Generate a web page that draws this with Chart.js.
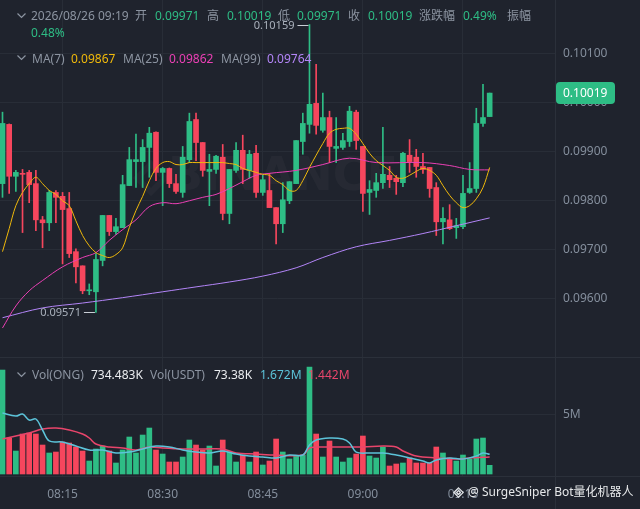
<!DOCTYPE html>
<html>
<head>
<meta charset="utf-8">
<script src="https://cdn.jsdelivr.net/npm/chart.js@4.4.1/dist/chart.umd.min.js"></script>
<style>
html, body { margin: 0; padding: 0; background: #1f232d; }
#wrap { position: relative; width: 640px; height: 509px; overflow: hidden; background: #1f232d;
        font-family: "Noto Sans", "Noto Sans CJK SC", sans-serif; font-size: 12px; }
canvas { position: absolute; left: 0; }
#main { top: 0; }
#vol { top: 358px; }
.t { position: absolute; white-space: nowrap; line-height: 14px; }
.g { color: #8c94a1; }
.up { color: #2ebd85; }
.w { color: #eaecef; }
.line { position: absolute; background: #2b303a; }
.chev { position: absolute; }
</style>
</head>
<body>
<div id="wrap">
  <canvas id="main" width="640" height="358"></canvas>
  <canvas id="vol" width="640" height="151"></canvas>

  <div class="line" style="left:0;top:357px;width:640px;height:1px"></div>
  <div class="line" style="left:0;top:476px;width:640px;height:1px"></div>
  <div class="line" style="left:555px;top:0;width:1px;height:509px"></div>

  <!-- cabecalho da vela -->
  <svg class="chev" style="left:17px;top:13px" width="9" height="6"><polyline points="0.5,0.5 4.5,4.5 8.5,0.5" fill="none" stroke="#8c94a1" stroke-width="1.2"/></svg>
  <span class="t g" style="left:31px;top:9px">2026/08/26 09:19</span>
  <span class="t g" style="left:135px;top:9px">开</span>
  <span class="t up" style="left:155px;top:9px">0.09971</span>
  <span class="t g" style="left:207px;top:9px">高</span>
  <span class="t up" style="left:227px;top:9px">0.10019</span>
  <span class="t g" style="left:278px;top:9px">低</span>
  <span class="t up" style="left:297px;top:9px">0.09971</span>
  <span class="t g" style="left:348px;top:9px">收</span>
  <span class="t up" style="left:368px;top:9px">0.10019</span>
  <span class="t g" style="left:419px;top:9px">涨跌幅</span>
  <span class="t up" style="left:463px;top:9px">0.49%</span>
  <span class="t g" style="left:507px;top:9px">振幅</span>
  <span class="t up" style="left:31px;top:26px">0.48%</span>

  <svg class="chev" style="left:17px;top:55px" width="9" height="6"><polyline points="0.5,0.5 4.5,4.5 8.5,0.5" fill="none" stroke="#8c94a1" stroke-width="1.2"/></svg>
  <span class="t g" style="left:32px;top:52px">MA(7)</span>
  <span class="t" style="left:71px;top:52px;color:#f0b90b">0.09867</span>
  <span class="t g" style="left:123px;top:52px">MA(25)</span>
  <span class="t" style="left:169px;top:52px;color:#eb40b5">0.09862</span>
  <span class="t g" style="left:221px;top:52px">MA(99)</span>
  <span class="t" style="left:267px;top:52px;color:#b385f8">0.09764</span>

  <svg class="chev" style="left:17px;top:372px" width="9" height="6"><polyline points="0.5,0.5 4.5,4.5 8.5,0.5" fill="none" stroke="#8c94a1" stroke-width="1.2"/></svg>
  <span class="t g" style="left:32px;top:368px">Vol(ONG)</span>
  <span class="t w" style="left:91px;top:368px">734.483K</span>
  <span class="t g" style="left:150px;top:368px">Vol(USDT)</span>
  <span class="t w" style="left:214px;top:368px">73.38K</span>
  <span class="t" style="left:260px;top:368px;color:#5cc3d9">1.672M</span>
  <span class="t" style="left:308px;top:368px;color:#e8456b">1.442M</span>

  <svg class="chev" style="left:453px;top:487px" width="11" height="11" viewBox="0 0 11 11">
    <g fill="none" stroke="#e6e8ea" stroke-width="1.1">
      <polygon points="5.5,0.8 10.2,5.5 5.5,10.2 0.8,5.5"/>
      <polygon points="5.5,3.6 7.4,5.5 5.5,7.4 3.6,5.5"/>
    </g>
  </svg>
  <span class="t" style="left:468px;top:485px;color:#e6e8ea">@ SurgeSniper Bot量化机器人</span>
</div>

<script>
// velas de 1 minuto
var times = ['08:06','08:07','08:08','08:09','08:10','08:11','08:12','08:13','08:14','08:15',
    '08:16','08:17','08:18','08:19','08:20','08:21','08:22','08:23','08:24','08:25',
    '08:26','08:27','08:28','08:29','08:30','08:31','08:32','08:33','08:34','08:35',
    '08:36','08:37','08:38','08:39','08:40','08:41','08:42','08:43','08:44','08:45',
    '08:46','08:47','08:48','08:49','08:50','08:51','08:52','08:53','08:54','08:55',
    '08:56','08:57','08:58','08:59','09:00','09:01','09:02','09:03','09:04','09:05',
    '09:06','09:07','09:08','09:09','09:10','09:11','09:12','09:13','09:14','09:15',
    '09:16','09:17','09:18','09:19'];

var opens = [0.09834,0.09955,0.09849,0.09855,0.09857,0.09834,0.09760,0.09754,0.09816,0.09808,
    0.09783,0.09695,0.09666,0.09615,0.09613,0.09677,0.09769,0.09736,0.09744,0.09830,
    0.09879,0.09879,0.09908,0.09939,0.09857,0.09865,0.09834,0.09816,0.09883,0.09965,
    0.09918,0.09859,0.09863,0.09888,0.09773,0.09861,0.09902,0.09861,0.09896,0.09816,
    0.09820,0.09785,0.09752,0.09799,0.09834,0.09920,0.09955,0.09998,0.09943,0.09969,
    0.09906,0.09908,0.09920,0.09980,0.09910,0.09816,0.09820,0.09836,0.09851,0.09845,
    0.09836,0.09892,0.09888,0.09869,0.09867,0.09826,0.09756,0.09760,0.09744,0.09746,
    0.09816,0.09824,0.09957,0.09971];
var highs = [0.09980,0.09956,0.09861,0.09863,0.09861,0.09861,0.09767,0.09820,0.09820,0.09816,
    0.09816,0.09701,0.09666,0.09629,0.09691,0.09769,0.09769,0.09763,0.09851,0.09908,
    0.09935,0.09924,0.09949,0.09940,0.09867,0.09866,0.09853,0.09910,0.09978,0.09978,
    0.09918,0.09894,0.09892,0.09914,0.09863,0.09918,0.09933,0.09902,0.09912,0.09851,
    0.09855,0.09785,0.09836,0.09838,0.09922,0.09978,0.10159,0.10078,0.10019,0.09982,
    0.09969,0.09937,0.09992,0.09984,0.09910,0.09840,0.09855,0.09949,0.09869,0.09851,
    0.09898,0.09924,0.09904,0.09896,0.09867,0.09836,0.09785,0.09791,0.09763,0.09851,
    0.09877,0.09988,0.10037,0.10019];
var lows = [0.09806,0.09814,0.09818,0.09734,0.09795,0.09738,0.09703,0.09738,0.09754,0.09670,
    0.09683,0.09631,0.09609,0.09607,0.09571,0.09666,0.09728,0.09730,0.09744,0.09830,
    0.09826,0.09826,0.09847,0.09840,0.09789,0.09826,0.09814,0.09806,0.09877,0.09881,
    0.09849,0.09789,0.09855,0.09760,0.09752,0.09857,0.09834,0.09845,0.09806,0.09810,
    0.09785,0.09711,0.09734,0.09793,0.09834,0.09894,0.09937,0.09935,0.09939,0.09877,
    0.09877,0.09904,0.09910,0.09904,0.09777,0.09771,0.09806,0.09824,0.09826,0.09812,
    0.09828,0.09857,0.09847,0.09855,0.09806,0.09728,0.09711,0.09740,0.09722,0.09742,
    0.09814,0.09816,0.09951,0.09971];
var closes = [0.09957,0.09849,0.09857,0.09853,0.09832,0.09760,0.09754,0.09816,0.09806,0.09781,
    0.09691,0.09664,0.09615,0.09617,0.09679,0.09769,0.09736,0.09746,0.09832,0.09883,
    0.09883,0.09908,0.09937,0.09857,0.09865,0.09834,0.09818,0.09888,0.09961,0.09918,
    0.09861,0.09863,0.09890,0.09773,0.09863,0.09902,0.09863,0.09894,0.09816,0.09842,
    0.09785,0.09752,0.09801,0.09838,0.09922,0.09957,0.09996,0.09953,0.09969,0.09910,
    0.09910,0.09922,0.09982,0.09922,0.09814,0.09822,0.09836,0.09853,0.09842,0.09838,
    0.09896,0.09879,0.09869,0.09863,0.09824,0.09756,0.09763,0.09742,0.09748,0.09814,
    0.09824,0.09957,0.09969,0.10019];
var volumes = [8810000,3049000,1948000,3388000,3473000,3388000,2456000,1779000,1863000,2710000,
    2626000,2287000,1948000,1101000,2118000,2372000,1948000,932000,2033000,3134000,
    1779000,3303000,3896000,2033000,1694000,1016000,1016000,1440000,2880000,2456000,
    2033000,2372000,678000,2880000,1863000,1016000,1609000,1016000,1863000,762000,
    1101000,2965000,1863000,1271000,1525000,1609000,9060000,3388000,1440000,2795000,
    1440000,1016000,1355000,1694000,3219000,1525000,1355000,2287000,678000,847000,
    932000,1355000,932000,932000,932000,2287000,1779000,1355000,1101000,1609000,
    1271000,2965000,3049000,734483];

// medias moveis
var ma7 = [0.09695,0.09742,0.09789,0.09816,0.09834,0.09847,0.09834,0.09820,0.09812,0.09799,
    0.09789,0.09758,0.09728,0.09707,0.09693,0.09687,0.09683,0.09689,0.09703,0.09744,
    0.09779,0.09808,0.09840,0.09865,0.09877,0.09879,0.09873,0.09873,0.09877,0.09877,
    0.09877,0.09877,0.09877,0.09877,0.09875,0.09873,0.09865,0.09861,0.09857,0.09853,
    0.09851,0.09840,0.09832,0.09820,0.09820,0.09840,0.09867,0.09892,0.09916,0.09937,
    0.09945,0.09947,0.09947,0.09935,0.09916,0.09896,0.09881,0.09871,0.09861,0.09847,
    0.09845,0.09851,0.09859,0.09865,0.09861,0.09851,0.09830,0.09810,0.09795,0.09785,
    0.09789,0.09803,0.09826,0.09867];
var ma25Idx = [1,3,5,7,10,13,15,17,19,21,23,25,27,29,31,33,35,37,39,41,45,49,53,57,64,68,71,74];
var ma25Val = [0.09539,0.09584,0.09615,0.09636,0.09664,0.09683,0.09693,0.09718,0.09740,0.09760,
    0.09787,0.09795,0.09793,0.09799,0.09806,0.09812,0.09824,0.09838,0.09851,0.09855,
    0.09861,0.09873,0.09886,0.09877,0.09877,0.09871,0.09863,0.09862];
var ma99Idx = [1,7,13,19,25,30,35,40,45,49,54,59,64,69,74];
var ma99Val = [0.09560,0.09580,0.09590,0.09601,0.09613,0.09623,0.09633,0.09645,0.09662,0.09683,
    0.09705,0.09718,0.09732,0.09748,0.09764];

var volMa5Idx = [1,3,4,5,6,7,8,10,12,14,16,18,20,22,24,26,28,30,32,34,36,38,40,42,44,46,47,48,50,52,
    53,54,56,58,60,62,64,65,66,68,70,72,73,74];
var volMa5Val = [5170000,4910000,5080000,4570000,4660000,3730000,2800000,2710000,2370000,2030000,
    2030000,1780000,1860000,2120000,2370000,2290000,2030000,1860000,1780000,1950000,
    1690000,1520000,1440000,1360000,1610000,1610000,2460000,2880000,3050000,2960000,
    2630000,1860000,1780000,1780000,1610000,1360000,1100000,930000,1190000,1360000,
    1270000,1520000,1780000,1672000];
var volMa10Idx = [1,3,5,7,9,11,13,14,15,17,19,21,23,25,28,31,34,36,39,42,46,47,49,55,58,60,61,63,66,69,71,74];
var volMa10Val = [2960000,3220000,3470000,3810000,3900000,3730000,3390000,3050000,2540000,2290000,
    2200000,2030000,2290000,2200000,2120000,2120000,2120000,1780000,1690000,1610000,
    1610000,2200000,2290000,2290000,2370000,2290000,1950000,1520000,1360000,1270000,
    1360000,1442000];

var priceTicks = [0.096, 0.097, 0.098, 0.099, 0.100, 0.101];
var volTicks = [5000000];
var timeTicks = ['08:15', '08:30', '08:45', '09:00', '09:15'];

var UP = '#2ebd85', DOWN = '#f6465d', GRID = '#282d37', AXIS = '#848e9c';
var X_MIN = 485.625, X_MAX = 568.79;

function toMin(t) { var p = t.split(':'); return +p[0] * 60 + +p[1]; }
function fmtMin(v) { var h = Math.floor(v / 60), m = v % 60; return (h < 10 ? '0' : '') + h + ':' + (m < 10 ? '0' : '') + m; }
function noPad(s) { s.paddingTop = 0; s.paddingBottom = 0; s.paddingLeft = 0; s.paddingRight = 0; }

var minutes = times.map(toMin);
var colors = closes.map(function(c, i) { return c >= opens[i] ? UP : DOWN; });
var bodies = minutes.map(function(m, i) { return { x: m, y: [opens[i], closes[i]] }; });
var wicks = minutes.map(function(m, i) { return { x: m, y: [lows[i], highs[i]] }; });
var volBars = minutes.map(function(m, i) { return { x: m, y: volumes[i] }; });
var ma7Pts = minutes.map(function(m, i) { return { x: m, y: ma7[i] }; });
function pts(idx, val) { return idx.map(function(k, j) { return { x: minutes[k - 1], y: val[j] }; }); }

function lineDs(data, color, w) {
    return { type: 'line', data: data, borderColor: color, borderWidth: w || 1, pointRadius: 0,
             tension: 0.35, fill: false, order: 0 };
}

function xScale(showLabels) {
    return {
        type: 'linear', min: X_MIN, max: X_MAX, offset: false,
        afterBuildTicks: function(s) { s.ticks = timeTicks.map(function(t) { return { value: toMin(t) }; }); },
        ticks: { display: showLabels, padding: 11, color: AXIS, maxRotation: 0, autoSkip: false,
                 font: { family: 'Noto Sans', size: 12 },
                 callback: function(v) { return fmtMin(v); } },
        grid: { color: GRID, drawTicks: false, offset: false },
        border: { display: false },
        afterFit: function(s) { s.height = showLabels ? 33 : 0; noPad(s); }
    };
}

var watermark = {
    id: 'watermark',
    beforeDatasetsDraw: function(chart) {
        var ctx = chart.ctx;
        ctx.save();
        ctx.fillStyle = 'rgba(255,255,255,0.03)';
        ctx.strokeStyle = 'rgba(255,255,255,0.03)';
        ctx.font = 'bold 46px "DejaVu Sans"';
        ctx.textBaseline = 'middle';
        ctx.fillText('BINANCE', 168, 178);
        ctx.lineWidth = 6;
        ctx.beginPath();
        ctx.moveTo(151, 164); ctx.lineTo(165, 178); ctx.lineTo(151, 192); ctx.lineTo(137, 178); ctx.closePath();
        ctx.stroke();
        ctx.restore();
    }
};

var hiLo = {
    id: 'hiLo',
    afterDatasetsDraw: function(chart) {
        var ctx = chart.ctx, xs = chart.scales.x, ys = chart.scales.y;
        var hi = highs.indexOf(Math.max.apply(null, highs));
        var lo = lows.indexOf(Math.min.apply(null, lows));
        ctx.save();
        ctx.font = '11px "Noto Sans"';
        ctx.fillStyle = '#aab1bc';
        ctx.strokeStyle = '#c9ced6';
        ctx.lineWidth = 1;
        ctx.textAlign = 'right';
        ctx.textBaseline = 'middle';
        [[hi, highs[hi]], [lo, lows[lo]]].forEach(function(p) {
            var x = xs.getPixelForValue(minutes[p[0]]);
            var y = Math.round(ys.getPixelForValue(p[1])) + 0.5;
            ctx.beginPath(); ctx.moveTo(x - 12, y); ctx.lineTo(x - 1, y); ctx.stroke();
            ctx.fillText(p[1].toFixed(5), x - 15, y);
        });
        ctx.restore();
    }
};

var lastBadge = {
    id: 'lastBadge',
    afterDraw: function(chart) {
        var ctx = chart.ctx, ys = chart.scales.y;
        var last = closes[closes.length - 1];
        var y = ys.getPixelForValue(last);
        ctx.save();
        ctx.fillStyle = last >= opens[opens.length - 1] ? UP : DOWN;
        ctx.beginPath();
        ctx.roundRect(556, y - 11, 59, 22, 4);
        ctx.fill();
        ctx.fillStyle = '#ffffff';
        ctx.font = '12px "Noto Sans"';
        ctx.textBaseline = 'middle';
        ctx.fillText(last.toFixed(5), 563, y + 0.5);
        ctx.restore();
    }
};

// Grafico principal: velas + MA
new Chart(document.getElementById('main'), {
    type: 'bar',
    data: {
        datasets: [
            lineDs(ma7Pts, '#f0b90b'),
            lineDs(pts(ma25Idx, ma25Val), '#eb40b5'),
            lineDs(pts(ma99Idx, ma99Val), '#b385f8'),
            { data: bodies, backgroundColor: colors, barThickness: 5, minBarLength: 1, grouped: false, order: 1 },
            { data: wicks, backgroundColor: colors, barThickness: 1, grouped: false, order: 2 }
        ]
    },
    options: {
        responsive: false, animation: false,
        layout: { padding: 0, autoPadding: false },
        plugins: { legend: { display: false }, tooltip: { enabled: false } },
        scales: {
            x: xScale(false),
            y: {
                position: 'right', min: 0.094777, max: 0.102092,
                afterBuildTicks: function(s) { s.ticks = priceTicks.map(function(v) { return { value: v }; }); },
                ticks: { padding: 8, color: AXIS, font: { family: 'Noto Sans', size: 12 },
                         callback: function(v) { return v.toFixed(5); } },
                grid: { drawTicks: false, color: GRID },
                border: { display: false },
                afterFit: function(s) { s.width = 85; noPad(s); }
            }
        }
    },
    plugins: [watermark, hiLo, lastBadge]
});

// Grafico de volume
new Chart(document.getElementById('vol'), {
    type: 'bar',
    data: {
        datasets: [
            lineDs(pts(volMa5Idx, volMa5Val), '#5cc3d9', 1.5),
            lineDs(pts(volMa10Idx, volMa10Val), '#e8456b', 1.5),
            { data: volBars, backgroundColor: colors, barThickness: 5, grouped: false, order: 1 }
        ]
    },
    options: {
        responsive: false, animation: false,
        layout: { padding: 0, autoPadding: false },
        plugins: { legend: { display: false }, tooltip: { enabled: false } },
        scales: {
            x: xScale(true),
            y: {
                position: 'right', min: -169492, max: 9830508,
                afterBuildTicks: function(s) { s.ticks = volTicks.map(function(v) { return { value: v }; }); },
                ticks: { padding: 8, color: AXIS, font: { family: 'Noto Sans', size: 12 },
                         callback: function(v) { return (v / 1000000) + 'M'; } },
                grid: { drawTicks: false, color: GRID },
                border: { display: false },
                afterFit: function(s) { s.width = 85; noPad(s); }
            }
        }
    }
});
</script>
</body>
</html>
